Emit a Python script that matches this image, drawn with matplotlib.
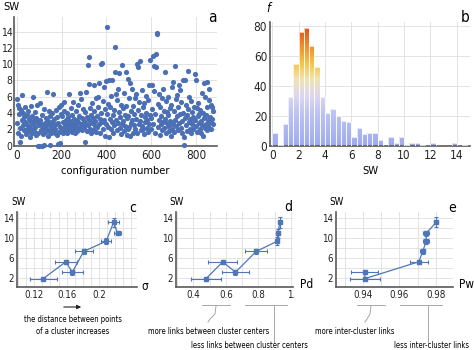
import numpy as np
import matplotlib
matplotlib.use("Agg")
import matplotlib.pyplot as plt
from matplotlib.colors import LinearSegmentedColormap
from matplotlib.path import Path
from matplotlib.patches import PathPatch, FancyArrowPatch
from matplotlib.lines import Line2D

plt.rcParams['font.family'] = ['DejaVu Sans']
plt.rcParams['font.stretch'] = 'condensed'

# ---- panel a: SW per configuration (block by block) ----
sw_scatter = [
    5.7, 2.8, 5.0, 1.6, 4.6, 3.9, 2.2, 0.4, 4.4, 1.2, 3.1, 6.2, 2.5, 4.0, 1.9, 3.5, 2.9, 4.7, 1.4, 2.6, 3.8, 2.1, 4.3,
    1.7, 3.3, 2.4, 1.1, 3.0, 4.9, 2.0, 3.6, 1.5, 2.7, 6.0, 3.2, 1.8, 4.1, 2.3, 3.4, 1.3, 2.9, 5.0, 1.6, 0.0, 2.5,
    0.0, 3.1, 5.2, 1.9, 2.6, 0.0, 3.8, 1.4, 2.3, 4.5, 0.1, 2.8, 1.7, 3.4, 2.0, 6.6, 2.5, 1.2, 3.0, 4.2, 1.8, 2.7, 0.1,
    3.6, 2.2, 1.5, 2.9, 4.0, 2.4, 6.3, 1.9, 3.3, 2.1, 1.6, 4.4, 2.6, 1.3, 3.5, 0.2, 2.8, 1.7, 4.8, 2.3, 0.3, 3.9,
    5.0, 2.1, 3.6, 1.6, 2.9, 4.3, 5.4, 2.4, 1.8, 3.2, 2.7, 4.0, 1.5, 2.2, 3.5, 6.4, 2.5, 1.9, 3.0, 4.6, 2.3, 1.7, 3.8,
    2.6, 5.3, 2.0, 3.3, 1.6, 2.8, 4.2, 2.4, 3.1, 1.8, 2.9, 5.0, 2.2, 3.6, 2.0, 6.5, 5.7, 2.7, 3.4, 1.9, 4.5, 2.5,
    3.0, 2.2, 0.5, 4.1, 2.7, 6.6, 3.5, 1.8, 9.9, 2.5, 7.6, 10.9, 3.2, 4.6, 2.0, 3.8, 1.5, 5.2, 2.8, 3.4, 1.9, 4.3, 7.4,
    2.4, 3.0, 5.8, 1.7, 3.6, 2.3, 6.0, 4.8, 2.6, 7.7, 3.3, 1.6, 10.0, 4.0, 2.9, 10.1, 2.1, 5.5, 3.1, 7.2, 1.2, 4.5,
    2.7, 7.9, 3.9, 14.6, 2.3, 5.1, 1.1, 8.0, 3.3, 4.7, 2.0, 6.1, 2.9, 8.1, 1.6, 3.7, 4.4, 2.5, 9.0, 12.1, 6.4, 3.1, 1.9,
    5.6, 2.8, 7.0, 4.1, 8.9, 2.2, 3.5, 1.4, 5.0, 9.9, 2.6, 4.6, 3.0, 1.8, 6.5, 3.8, 2.4, 9.0, 4.9, 1.3, 3.4, 2.1,
    8.2, 3.6, 2.3, 5.9, 1.2, 7.7, 4.2, 2.8, 3.1, 7.0, 1.6, 4.9, 2.5, 3.9, 5.8, 2.0, 6.3, 3.3, 10.0, 1.5, 9.6, 4.4, 2.7,
    5.4, 3.0, 10.4, 1.9, 3.7, 6.8, 2.4, 4.7, 2.1, 5.2, 1.4, 3.5, 2.9, 4.0, 6.1, 2.2, 3.2, 1.7, 5.6, 2.6, 7.5, 3.8,
    10.5, 3.4, 2.0, 7.5, 4.5, 11.0, 2.7, 6.7, 9.8, 1.6, 3.9, 9.6, 11.2, 13.8, 13.7, 5.1, 2.3, 6.4, 3.1, 1.3, 4.8, 2.6,
    3.6, 5.8, 1.9, 2.9, 7.0, 4.2, 2.2, 9.0, 3.3, 1.5, 5.5, 2.8, 4.1, 2.4, 6.0, 3.7, 1.8, 2.5, 4.6, 3.0, 1.2, 5.0, 2.1,
    7.2, 2.6, 7.8, 4.3, 1.7, 3.2, 9.8, 5.7, 2.4, 3.6, 6.2, 1.9, 4.7, 2.8, 7.5, 3.9, 6.8, 2.2, 5.3, 3.0, 1.5, 8.1, 4.0,
    0.1, 1.0, 3.4, 8.0, 2.5, 5.0, 3.7, 1.8, 9.2, 4.5, 2.9, 6.0, 2.0, 3.3, 5.5, 1.6, 4.1, 2.7, 3.5, 2.1, 4.8, 3.1,
    8.8, 3.2, 8.0, 2.4, 4.6, 1.7, 3.6, 5.2, 2.8, 3.9, 2.1, 4.4, 1.5, 3.0, 6.5, 2.5, 4.0, 1.2, 3.4, 7.7, 2.2, 6.0,
    3.7, 2.7, 7.8, 4.8, 1.9, 3.1, 2.4, 7.0, 5.6, 2.9, 3.5, 5.0, 2.0, 4.7, 3.3, 2.6, 4.2,
]
config_number = np.linspace(0, 878, len(sw_scatter))

# ---- panel b: histogram of SW (bin width 0.4 starting at 0) ----
hist_counts = [9, 1, 15, 33, 55, 76, 79, 67, 53, 33, 22, 25, 20, 17, 16, 6, 12, 8, 9, 9,
               4, 0, 6, 2, 6, 1, 2, 2, 1, 0, 2, 0, 0, 0, 2, 0, 1]
bin_width = 0.4

# ---- panels c, d, e: mean SW vs network parameter ----
sw_c = [1.8, 5.2, 3.1, 7.3, 9.4, 13.2, 11.0]
sw_c_err = [0.2, 0.4, 0.5, 0.5, 0.6, 0.9, 0.4]
sigma = [0.131, 0.159, 0.167, 0.181, 0.209, 0.218, 0.223]
sigma_err = [0.0165, 0.0134, 0.0128, 0.011, 0.006, 0.0068, 0.004]

sw_d = [1.8, 5.2, 3.1, 7.3, 9.4, 11.0, 13.2]
sw_d_err = [0.2, 0.4, 0.5, 0.5, 0.8, 0.9, 1.1]
pd_vals = [0.478, 0.581, 0.659, 0.786, 0.917, 0.919, 0.933]
pd_err = [0.092, 0.089, 0.084, 0.067, 0.004, 0.004, 0.004]

sw_e = [3.1, 1.8, 5.2, 7.3, 9.4, 11.0, 13.2]
sw_e_err = [0.4, 0.2, 0.4, 0.5, 0.5, 0.5, 1.0]
pw_vals = [0.9409, 0.9409, 0.9706, 0.9728, 0.9747, 0.9747, 0.9803]
pw_err = [0.0075, 0.0083, 0.005, 0.0015, 0.0015, 0.0015, 0.0012]

W, H = 474, 350
BLUE = '#4a6fb5'
LINE = '#4f77b8'
SPINE = '#5a5a5a'
GRID = '#dedede'


def box(left, top, right, bottom):
    return [left / W, 1 - bottom / H, (right - left) / W, (bottom - top) / H]


def px(x, y):
    return (x / W, 1 - y / H)


def style(ax, size):
    for s in ['top', 'right']:
        ax.spines[s].set_visible(False)
    for s in ['left', 'bottom']:
        ax.spines[s].set_color(SPINE)
        ax.spines[s].set_linewidth(1.2)
    ax.tick_params(which='both', length=0, pad=2, labelsize=size, labelcolor='#222222')
    ax.grid(True, which='both', color=GRID, linewidth=0.6)
    ax.set_axisbelow(True)


fig = plt.figure(figsize=(W / 100, H / 100), dpi=100)

# ---------------- a ----------------
ax_a = fig.add_axes(box(14, 17, 217, 146))
style(ax_a, 8.5)
ax_a.tick_params(axis='y', labelsize=7.5, pad=1)
ax_a.scatter(config_number, sw_scatter, s=14, color=BLUE, linewidths=0, zorder=3, clip_on=False)
ax_a.set_xlim(-13, 894)
ax_a.set_ylim(-0.05, 15.8)
ax_a.set_xticks([0, 200, 400, 600, 800])
ax_a.set_yticks([0, 2, 4, 6, 8, 10, 12, 14])
ax_a.set_xlabel('configuration number', fontsize=8, labelpad=3)
fig.text(*px(11, 7), 'SW', fontsize=8, ha='center', va='center')
fig.text(*px(212, 17), 'a', fontsize=11, ha='center', va='center')

# ---------------- b ----------------
ax_b = fig.add_axes(box(270, 22, 470, 146))
style(ax_b, 8.5)
left_edges = np.arange(len(hist_counts)) * bin_width
cmap = LinearSegmentedColormap.from_list('hist', [
    (0.0, '#9eabef'), (0.25, '#bac1f2'), (0.42, '#ddd7f2'), (0.56, '#f3e2b0'),
    (0.68, '#f2c84c'), (0.82, '#f09432'), (1.0, '#e04c12')])
grad = np.linspace(0, 1, 256).reshape(-1, 1)
im = ax_b.imshow(grad, cmap=cmap, origin='lower', extent=(0, 15, 0, 80),
                 aspect='auto', zorder=2, interpolation='bilinear')
rects = [Path([(x0, 0), (x0 + bin_width, 0), (x0 + bin_width, c), (x0, c), (x0, 0)], closed=True)
         for x0, c in zip(left_edges, hist_counts)]
clip = PathPatch(Path.make_compound_path(*rects), transform=ax_b.transData,
                 facecolor='none', edgecolor='none')
ax_b.add_patch(clip)
im.set_clip_path(clip)
ax_b.bar(left_edges, hist_counts, width=bin_width, align='edge', color='none',
         edgecolor='white', linewidth=0.5, zorder=3)
ax_b.set_xlim(-0.17, 15.0)
ax_b.set_ylim(0, 82.7)
ax_b.set_xticks([0, 2, 4, 6, 8, 10, 12, 14])
ax_b.set_yticks([0, 20, 40, 60, 80])
ax_b.set_xlabel('SW', fontsize=8, labelpad=3)
fig.text(*px(268, 8), 'f', fontsize=9, style='italic', ha='center', va='center')
fig.text(*px(465, 17), 'b', fontsize=11, ha='center', va='center')


def param_panel(rect, xs, xerr, ys, yerr, xlim, xticks, xticklabels, minor, letter, letter_xy, xname, xname_xy, sw_xy):
    ax = fig.add_axes(rect)
    style(ax, 7)
    ax.errorbar(xs, ys, xerr=xerr, yerr=yerr, color=LINE, ecolor=LINE, lw=0.9, elinewidth=0.8,
                capsize=1.5, capthick=0.8, marker='s', ms=2.5, zorder=3)
    ax.set_xlim(*xlim)
    ax.set_ylim(0.1, 15.3)
    ax.set_xticks(xticks)
    ax.set_xticklabels(xticklabels)
    ax.set_xticks(minor, minor=True)
    ax.set_yticks([2, 6, 10, 14])
    ax.set_yticks([4, 8, 12], minor=True)
    fig.text(*px(*sw_xy), 'SW', fontsize=7, ha='center', va='center')
    fig.text(*px(*letter_xy), letter, fontsize=10, ha='center', va='center')
    fig.text(*px(*xname_xy), xname, fontsize=8.5, ha='center', va='center')
    return ax


param_panel(box(17, 212, 137, 287), sigma, sigma_err, sw_c, sw_c_err, (0.0986, 0.247),
            [0.12, 0.16, 0.2], ['0.12', '0.16', '0.2'], np.arange(0.10, 0.245, 0.01),
            'c', (133, 208), 'σ', (145, 287), (19, 202))
param_panel(box(176, 212, 293, 287), pd_vals, pd_err, sw_d, sw_d_err, (0.293, 1.013),
            [0.4, 0.6, 0.8, 1.0], ['0.4', '0.6', '0.8', '1.'], np.arange(0.3, 1.01, 0.1),
            'd', (288, 207), 'Pd', (307, 285), (176, 202))
param_panel(box(336, 212, 453, 287), pw_vals, pw_err, sw_e, sw_e_err, (0.925, 0.9895),
            [0.94, 0.96, 0.98], ['0.94', '0.96', '0.98'], np.arange(0.93, 0.99, 0.01),
            'e', (452, 208), 'Pw', (467, 285), (336, 202))

# ---- annotations under c, d, e ----
fig.add_artist(FancyArrowPatch(px(61, 307), px(84, 307), transform=fig.transFigure,
                               arrowstyle='-|>', mutation_scale=6, lw=0.8, color='#222222'))
fig.text(*px(73, 320), 'the distance between points', fontsize=5.5, ha='center', va='center')
fig.text(*px(73, 331), 'of a cluster increases', fontsize=5.5, ha='center', va='center')

GR = '#9a9a9a'


def fline(pts):
    xs, ys = zip(*[px(*p) for p in pts])
    fig.add_artist(Line2D(xs, ys, transform=fig.transFigure, color=GR, lw=0.6))


fline([(202, 305), (230, 305)])
fline([(216, 306), (215, 314), (210, 319), (208, 322)])
fline([(245, 305), (287, 305)])
fline([(274, 306), (274, 343)])
fig.text(*px(209, 332), 'more links between cluster centers', fontsize=5.5, ha='center', va='center')
fig.text(*px(249, 345), 'less links between cluster centers', fontsize=5.5, ha='center', va='center')

fline([(357, 305), (385, 305)])
fline([(371, 306), (370, 314), (367, 319), (365, 322)])
fline([(400, 305), (442, 305)])
fline([(428, 306), (428, 343)])
fig.text(*px(355, 332), 'more inter-cluster links', fontsize=5.5, ha='center', va='center')
fig.text(*px(431, 345), 'less inter-cluster links', fontsize=5.5, ha='center', va='center')

fig.savefig('out.png', dpi=100)
